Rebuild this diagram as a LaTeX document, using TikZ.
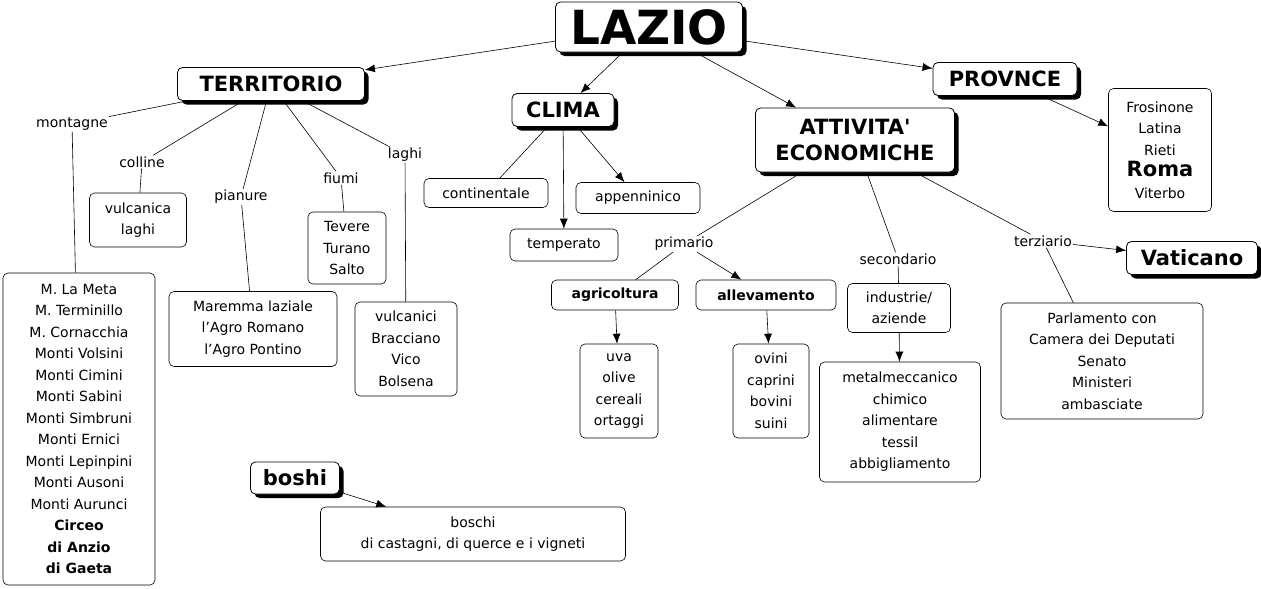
\documentclass[tikz,border=0pt]{standalone}
\usepackage{fontspec}
\setmainfont{DejaVu Sans}
\usepackage{textcomp}
\usetikzlibrary{shadows,arrows.meta}
\tikzstyle{concept}=[draw=black,rounded corners=5pt,align=center,inner sep=3pt,
  font=\fontsize{14}{21.5}\selectfont,fill=white]
\tikzstyle{main}=[concept,thick,font=\bfseries\fontsize{21}{24}\selectfont,
  drop shadow={fill=black,opacity=1,shadow xshift=4pt,shadow yshift=-4pt}]
\tikzstyle{link}=[font=\fontsize{14}{16}\selectfont,fill=white,inner sep=1pt]
\tikzstyle{arr}=[-{Latex[length=10pt,width=8pt]}]

\begin{document}
\begin{tikzpicture}[x=1pt,y=-1pt,line width=0.6pt]
  \useasboundingbox (0,0) rectangle (1261,589);

  % main concepts
  \node[main,font=\bfseries\fontsize{47}{50}\selectfont,minimum width=187pt,minimum height=50pt] (lazio) at (649,27) {LAZIO};
  \node[main,minimum width=187pt,minimum height=33pt] (terr) at (271,84) {TERRITORIO};
  \node[main,minimum width=102pt,minimum height=33pt] (clima) at (563,110) {CLIMA};
  \node[main,minimum width=199pt,minimum height=64pt,font=\bfseries\fontsize{21}{26}\selectfont] (att) at (855,140) {ATTIVITA\textquotesingle\\ECONOMICHE};
  \node[main,minimum width=144pt,minimum height=33pt] (prov) at (1005,79) {PROVNCE};
  \node[main,minimum width=131pt,minimum height=33pt] (vat) at (1192,258) {Vaticano};
  \node[main,minimum width=89pt,minimum height=32pt] (boshi) at (295,478) {boshi};

  % linking words
  \node[link] (mont) at (72,124) {montagne};
  \node[link] (coll) at (142,162) {colline};
  \node[link] (pian) at (241,197) {pianure};
  \node[link] (fiumi) at (341,178) {fiumi};
  \node[link] (laghi) at (405,155) {laghi};
  \node[link] (prim) at (684,244) {primario};
  \node[link] (sec) at (898,259) {secondario};
  \node[link] (terz) at (1043,241) {terziario};

  % concepts
  \node[concept,minimum width=103pt,minimum height=123pt] (provlist) at (1160,150) {Frosinone\\Latina\\Rieti\\{\bfseries\fontsize{21}{21.5}\selectfont Roma}\\Viterbo};
  \node[concept,minimum width=97pt,minimum height=54pt] (vulc) at (138,220) {vulcanica\\laghi};
  \node[concept,minimum width=78pt,minimum height=72pt] (fiumilist) at (347,248) {Tevere\\Turano\\Salto};
  \node[concept,minimum width=152pt,minimum height=312pt] (montlist) at (79,429) {M. La Meta\\M. Terminillo\\M. Cornacchia\\Monti Volsini\\Monti Cimini\\Monti Sabini\\Monti Simbruni\\Monti Ernici\\Monti Lepinpini\\Monti Ausoni\\Monti Aurunci\\\textbf{Circeo}\\\textbf{di Anzio}\\\textbf{di Gaeta}};
  \node[concept,minimum width=168pt,minimum height=75pt] (mar) at (253,329) {Maremma laziale\\l’Agro Romano\\l’Agro Pontino};
  \node[concept,minimum width=102pt,minimum height=94pt] (laghilist) at (406,349) {vulcanici\\Bracciano\\Vico\\Bolsena};
  \node[concept,minimum width=124pt,minimum height=29pt] (cont) at (486,193) {continentale};
  \node[concept,minimum width=124pt,minimum height=31pt] (app) at (638,198) {appenninico};
  \node[concept,minimum width=108pt,minimum height=32pt] (temp) at (564,245) {temperato};
  \node[concept,minimum width=127pt,minimum height=30pt,font=\bfseries\fontsize{14}{16}\selectfont] (agri) at (615,295) {agricoltura};
  \node[concept,minimum width=140pt,minimum height=30pt,font=\bfseries\fontsize{14}{16}\selectfont] (alle) at (766,295) {allevamento};
  \node[concept,minimum width=78pt,minimum height=94pt] (uva) at (619,391) {uva\\olive\\cereali\\ortaggi};
  \node[concept,minimum width=76pt,minimum height=94pt] (ovini) at (771,391) {ovini\\caprini\\bovini\\suini};
  \node[concept,minimum width=103pt,minimum height=49pt] (ind) at (899,308) {industrie/\\aziende};
  \node[concept,minimum width=161pt,minimum height=120pt] (metal) at (900,422) {metalmeccanico\\chimico\\alimentare\\tessil\\abbigliamento};
  \node[concept,minimum width=202pt,minimum height=116pt] (parl) at (1102,361) {Parlamento con\\Camera dei Deputati\\Senato\\Ministeri\\ambasciate};
  \node[concept,minimum width=305pt,minimum height=54pt] (boschi) at (473,534) {boschi\\di castagni, di querce e i vigneti};

  % connectors
  \draw[arr] (lazio) -- (terr);
  \draw[arr] (lazio) -- (clima);
  \draw[arr] (lazio) -- (att);
  \draw[arr] (lazio) -- (prov);
  \draw[arr] (prov) -- (provlist);
  \draw (terr) -- (mont);
  \draw (terr) -- (coll);
  \draw (terr) -- (pian);
  \draw (terr) -- (fiumi);
  \draw (terr) -- (laghi);
  \draw (mont) -- (montlist);
  \draw (coll) -- (vulc);
  \draw (pian) -- (mar);
  \draw (fiumi) -- (fiumilist);
  \draw (laghi) -- (laghilist);
  \draw (clima) -- (cont);
  \draw[arr] (clima) -- (temp);
  \draw[arr] (clima) -- (app);
  \draw (att) -- (prim);
  \draw (att) -- (sec);
  \draw (att) -- (terz);
  \draw (prim) -- (agri);
  \draw[arr] (prim) -- (alle);
  \draw[arr] (agri) -- (uva);
  \draw[arr] (alle) -- (ovini);
  \draw (sec) -- (ind);
  \draw[arr] (ind) -- (metal);
  \draw[arr] (terz) -- (vat);
  \draw (terz) -- (parl);
  \draw[arr] (boshi) -- (boschi);
\end{tikzpicture}
\end{document}
